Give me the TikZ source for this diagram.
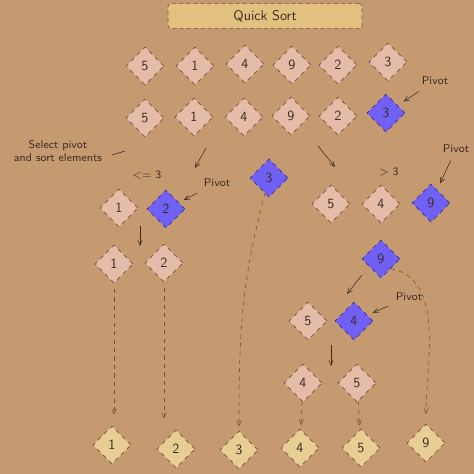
\documentclass[tikz,border=0pt]{standalone}
\usepackage{tikz}
\usetikzlibrary{arrows, shapes.geometric}

\definecolor{paper}{RGB}{198,154,112}
\definecolor{ink}{RGB}{60,45,35}
\definecolor{edgebrown}{RGB}{115,82,62}
\definecolor{pinkfill}{RGB}{228,188,168}
\definecolor{pivotblue}{RGB}{112,96,245}
\definecolor{donefill}{RGB}{232,206,148}
\definecolor{titlefill}{RGB}{226,192,128}

\begin{document}
\begin{tikzpicture}
        [x=0.025cm, y=-0.025cm, font=\sffamily,
        elem/.style={diamond, draw=edgebrown, dashed, fill=pinkfill, text=ink,
                     minimum size=0.95cm, inner sep=0pt},
        pivot/.style={elem, fill=pivotblue, draw=pivotblue!55!black},
        done/.style={elem, fill=donefill},
        note/.style={font=\sffamily\footnotesize, text=ink},
        arr/.style={->,>=angle 45,thin,draw=ink},
        darr/.style={arr, dashed, edgebrown}]
        \fill[paper] (0,0) rectangle (474,474);
        \useasboundingbox (0,0) rectangle (474,474);
        % title
        \node (title) at (265,16) [draw=edgebrown, densely dashed, fill=titlefill,
           rounded corners=2pt, minimum width=4.85cm, minimum height=0.62cm, text=ink] {Quick Sort};
        % input
        \node (a5) at (145,66) [elem] {5};
        \node (a1) at (195,66) [elem] {1};
        \node (a4) at (245,64) [elem] {4};
        \node (a9) at (292,65) [elem] {9};
        \node (a2) at (338,65) [elem] {2};
        \node (a3) at (388,62) [elem] {3};
        % choose pivot
        \node (b5) at (145,118) [elem] {5};
        \node (b1) at (194,117) [elem] {1};
        \node (b4) at (244,117) [elem] {4};
        \node (b9) at (291,116) [elem] {9};
        \node (b2) at (338,116) [elem] {2};
        \node (b3) at (386,113) [pivot] {3};
        \node (pv1) at (435,81) [note] {Pivot};
        \path (pv1) edge[arr, shorten <=2pt, shorten >=5pt] (b3);
        \node (sel) at (58,151) [note, align=center] {Select pivot\\and sort elements};
        \coordinate (selA) at (112,155);
        \coordinate (selB) at (125,151);
        \draw[ink, thin] (selA) -- (selB);
        \coordinate (splitL1) at (206,148);
        \coordinate (splitL2) at (195,168);
        \coordinate (splitR1) at (318,146);
        \coordinate (splitR2) at (335,167);
        \draw[arr] (splitL1) -- (splitL2);
        \draw[arr] (splitR1) -- (splitR2);
        % partition
        \node (p3) at (269,178) [pivot] {3};
        \node (le) at (147,175) [note] {<= 3};
        \node (gt) at (389,172) [note] {> 3};
        \node (c1) at (119,208) [elem] {1};
        \node (c2) at (166,209) [pivot] {2};
        \node (pv2) at (217,183) [note] {Pivot};
        \path (pv2) edge[arr, shorten <=2pt, shorten >=4pt] (c2);
        \node (c5) at (331,204) [elem] {5};
        \node (c4) at (381,204) [elem] {4};
        \node (c9) at (431,203) [pivot] {9};
        \node (pv3) at (456,149) [note] {Pivot};
        \path (pv3) edge[arr, shorten <=2pt, shorten >=5pt] (c9);
        % left part sorted
        \coordinate (dnL1) at (140,226);
        \coordinate (dnL2) at (140,246);
        \draw[arr] (dnL1) -- (dnL2);
        \node (d1) at (114,264) [elem] {1};
        \node (d2) at (164,263) [elem] {2};
        % right part
        \node (e9) at (381,259) [pivot] {9};
        \coordinate (dnR1) at (362,275);
        \coordinate (dnR2) at (347,294);
        \draw[arr] (dnR1) -- (dnR2);
        \node (f5) at (308,321) [elem] {5};
        \node (f4) at (354,321) [pivot] {4};
        \node (pv4) at (409,297) [note] {Pivot};
        \path (pv4) edge[arr, shorten <=2pt, shorten >=4pt] (f4);
        \coordinate (dnM1) at (331,345);
        \coordinate (dnM2) at (331,366);
        \draw[arr] (dnM1) -- (dnM2);
        \node (g4) at (303,383) [elem] {4};
        \node (g5) at (357,383) [elem] {5};
        % result
        \node (r1) at (112,445) [done] {1};
        \node (r2) at (176,449) [done] {2};
        \node (r3) at (239,450) [done] {3};
        \node (r4) at (300,448) [done] {4};
        \node (r5) at (361,448) [done] {5};
        \node (r9) at (426,443) [done] {9};
        \draw[darr, shorten <=4pt, shorten >=8pt] (d1.south) -- (d1.south |- r1.north);
        \draw[darr, shorten <=4pt, shorten >=8pt] (d2.south) -- (d2.south |- r2.north);
        \path (p3) edge[darr, out=-105, in=90, shorten >=3pt] (r3);
        \path (g4) edge[darr, shorten >=3pt] (r4);
        \path (g5) edge[darr, shorten >=3pt] (r5);
        \path (e9.south east) edge[darr, out=-10, in=90, looseness=0.9, shorten >=7pt] (r9);
     \end{tikzpicture}
\end{document}
